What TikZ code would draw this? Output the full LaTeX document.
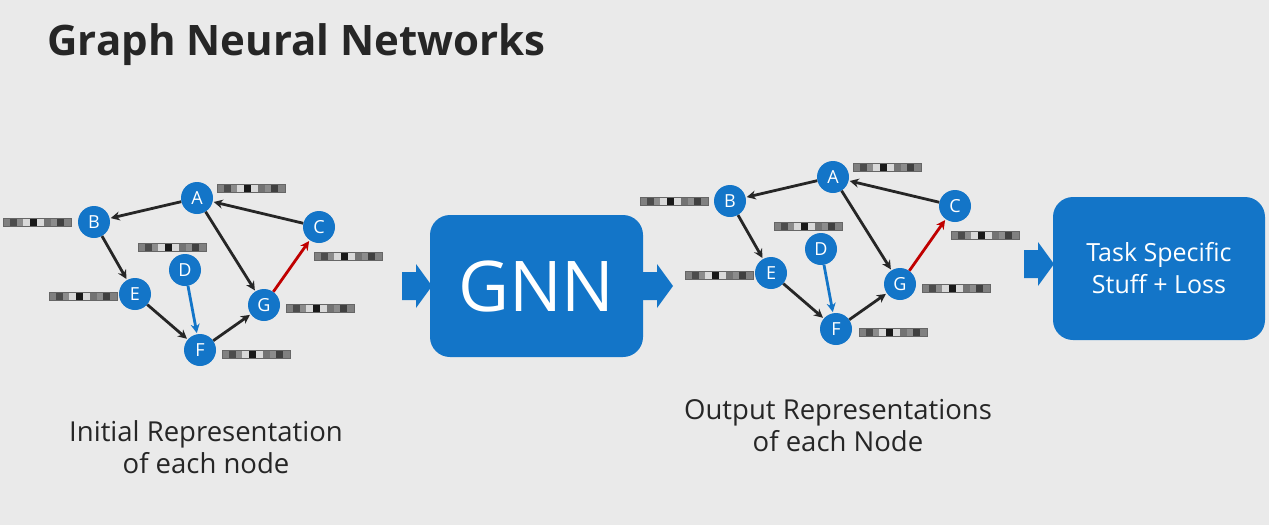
\documentclass[tikz,border=0pt]{standalone}
\usepackage{fontspec}
\setmainfont{Open Sans}
\usetikzlibrary{arrows.meta,calc}
\definecolor{bg}{HTML}{EAEAEA}
\definecolor{nb}{HTML}{1375C8}
\definecolor{rd}{HTML}{C00000}
\newcommand{\vecbar}[2]{%
  \foreach \g [count=\i from 0] in {50,70,45,15,90,15,55,45,75,50}
    {\fill[black!\g] ($(#1,#2)+(\i*6.8,-4)$) rectangle ++(6.8,8);}
  \draw[black!60,line width=0.5pt] (#1,#2-4) rectangle ++(68,8);}
\newcommand{\mygraph}[2]{%
\begin{scope}[shift={(#1,#2)}]
\node[nd] (A#1) at (0,0) {A};
\node[nd] (B#1) at (-103,24) {B};
\node[nd] (C#1) at (122,29) {C};
\node[nd] (D#1) at (-12,72) {D};
\node[nd] (E#1) at (-62,96) {E};
\node[nd] (F#1) at (3,152) {F};
\node[nd] (G#1) at (67,107) {G};
\draw[ed] (A#1) -- (B#1);
\draw[ed] (C#1) -- (A#1);
\draw[ed] (A#1) -- (G#1);
\draw[ed] (B#1) -- (E#1);
\draw[ed] (E#1) -- (F#1);
\draw[ed] (F#1) -- (G#1);
\draw[bl] (D#1) -- (F#1);
\draw[rdd] (G#1) -- (C#1);
\end{scope}}
\newcommand{\barrow}[2]{\fill[nb] (#1,#2-14) -- (#1+14,#2-14) -- (#1+14,#2-22) -- (#1+30,#2) -- (#1+14,#2+22) -- (#1+14,#2+14) -- (#1,#2+14) -- cycle;}
\begin{document}
\begin{tikzpicture}[x=1pt,y=-1pt,
  nd/.style={circle,fill=nb,text=white,minimum size=32pt,inner sep=0pt,font=\fontsize{18}{18}\selectfont},
  ed/.style={line width=2.8pt,-{Stealth[length=9pt,width=9pt]},shorten >=1pt,draw=black!85},
  bl/.style={ed,draw=nb},
  rdd/.style={ed,draw=rd},
  bigbox/.style={rounded corners=20pt,fill=nb,text=white},
  lab/.style={font=\fontsize{27.5}{32}\selectfont,align=center,text=black!85}]
\fill[bg] (0,0) rectangle (1269,525);
\useasboundingbox (0,0) rectangle (1269,525);
\node[anchor=west,font=\fontsize{42}{42}\selectfont\bfseries,text=black!85] (title) at (44,45) {Graph Neural Networks};
\mygraph{197}{198}
\mygraph{833}{177}
\vecbar{217}{188}\vecbar{3}{222}\vecbar{138}{247}\vecbar{314}{256}
\vecbar{49}{296}\vecbar{286}{308}\vecbar{222}{354}
\vecbar{853}{167}\vecbar{640}{201}\vecbar{774}{226}\vecbar{951}{235}
\vecbar{685}{275}\vecbar{922}{288}\vecbar{859}{332}
\node[bigbox,minimum width=213pt,minimum height=142pt,font=\fontsize{70}{70}\selectfont] (gnn) at (536.5,286) {GNN};
\node[bigbox,minimum width=212pt,minimum height=143pt,align=center,font=\fontsize{25}{32}\selectfont] (task) at (1159,268.5) {Task Specific\\Stuff + Loss};
\barrow{402}{286}
\barrow{643}{286}
\barrow{1024}{264}
\node[lab] (l1) at (206,447) {Initial Representation\\of each node};
\node[lab] (l2) at (838,426) {Output Representations\\of each Node};
\end{tikzpicture}
\end{document}
